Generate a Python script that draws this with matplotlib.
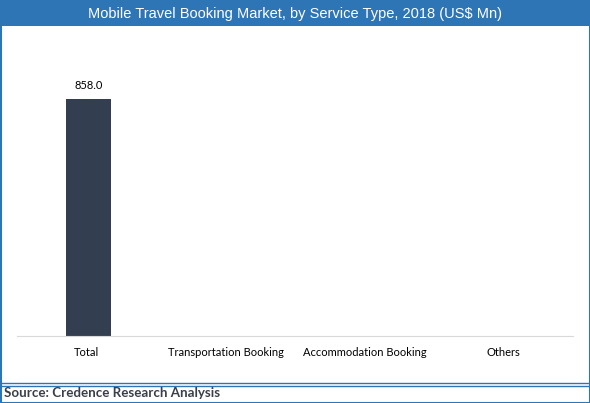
import matplotlib
matplotlib.use("Agg")
import matplotlib.pyplot as plt
from matplotlib.patches import Rectangle
from matplotlib.lines import Line2D

categories = ["Total", "Transportation Booking", "Accommodation Booking", "Others"]
values = [858.0, 0, 0, 0]
labels = ["858.0", "", "", ""]

W, H = 590, 403
fig = plt.figure(figsize=(W/100, H/100), dpi=100)
fig.patch.set_facecolor("white")

blue = "#2E75B6"
# title bar
fig.add_artist(Rectangle((0, 1 - 26/H), 1, 26/H, transform=fig.transFigure,
                         facecolor=blue, edgecolor="none"))
fig.text(0.5, 1 - 14/H, "Mobile Travel Booking Market, by Service Type, 2018 (US$ Mn)",
         ha="center", va="center", color="white", fontsize=10.5, family="Liberation Sans")
# outer border
fig.add_artist(Rectangle((0.5/W, 0.5/H), 1 - 1/W, 1 - 1/H, transform=fig.transFigure,
                         facecolor="none", edgecolor=blue, lw=1.5))
# footer separator (double line)
for yy in (382.5, 385.5):
    fig.add_artist(Line2D([0, 1], [1 - yy/H, 1 - yy/H], transform=fig.transFigure,
                          color=blue, lw=1))
fig.text(4/W, 1 - 393/H, "Source: Credence Research Analysis", ha="left", va="center",
         color="#3A3F4A", fontsize=9.6, fontweight="bold", family="Lato")

ax = fig.add_axes([17/W, 1 - 336/H, 556/W, 296/H])
x = range(len(categories))
bars = ax.bar([i + 0.015 for i in x], values, width=0.32, color="#333F50")
for b, lab in zip(bars, labels):
    if lab:
        ax.text(b.get_x() + b.get_width()/2, b.get_height() + 30, lab,
                ha="center", va="bottom", fontsize=8, color="black", family="Lato")
ax.set_xlim(-0.5, 3.5)
ax.set_ylim(0, 1072)
ax.set_xticks(list(x))
ax.set_xticklabels(categories, fontsize=8, family="Lato")
ax.tick_params(axis="x", length=0, pad=8)
ax.set_yticks([])
for s in ["top", "left", "right"]:
    ax.spines[s].set_visible(False)
ax.spines["bottom"].set_color("#D9D9D9")

fig.savefig("out.png", dpi=100)
